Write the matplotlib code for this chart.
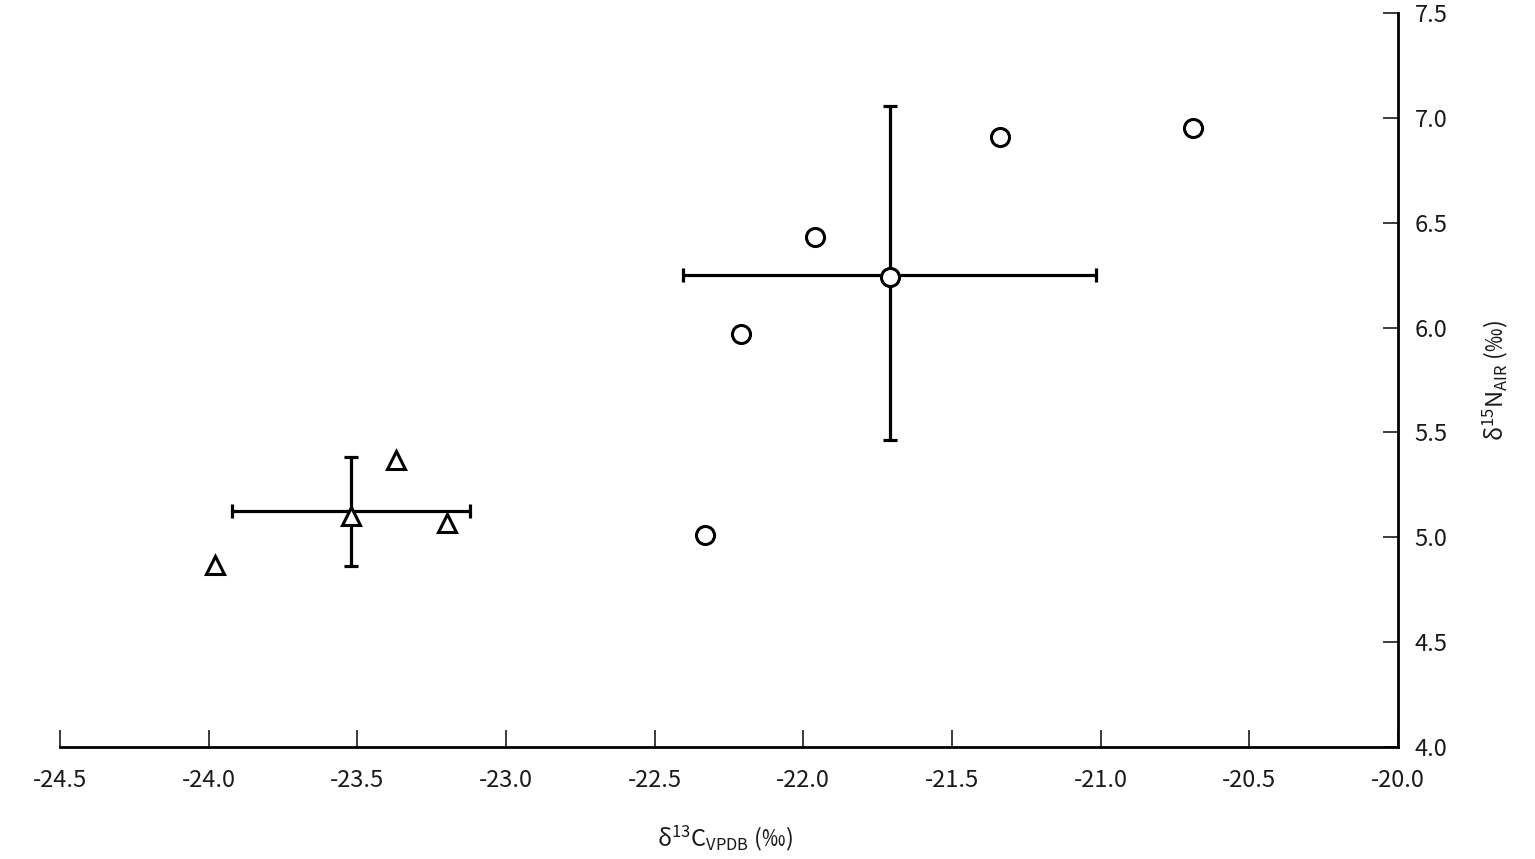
import numpy as np
import matplotlib
matplotlib.use('Agg')
import matplotlib.pyplot as plt

plt.rcParams['font.family'] = ['Noto Sans CJK SC', 'DejaVu Sans']
plt.rcParams['mathtext.fontset'] = 'custom'
plt.rcParams['mathtext.rm'] = 'Noto Sans CJK SC'
plt.rcParams['mathtext.it'] = 'Noto Sans CJK SC'

# group 1 (triangles)
tri_c = [-23.98, -23.37, -23.20]
tri_n = [4.87, 5.37, 5.07]
tri_mean = (-23.52, 5.10)
tri_bar_center = (-23.52, 5.125)
tri_xerr = 0.40
tri_yerr = [[0.26], [0.26]]

# group 2 (circles)
cir_c = [-22.33, -22.21, -21.96, -21.34, -20.69]
cir_n = [5.01, 5.97, 6.43, 6.91, 6.95]
cir_mean = (-21.71, 6.24)
cir_bar_center = (-21.71, 6.25)
cir_xerr = 0.695
cir_yerr = [[0.787], [0.807]]

xticks = np.arange(-24.5, -19.99, 0.5)
yticks = np.arange(4.0, 7.51, 0.5)

fig = plt.figure(figsize=(15.35, 8.59), dpi=100)
ax = fig.add_axes([0.0391, 0.1304, 0.8716, 0.8545])

mk = dict(ms=13, mfc='white', mec='black', mew=2.2, ls='none')
eb = dict(fmt='none', ecolor='black', elinewidth=2.3, capsize=5, capthick=2.3,
          zorder=2)

# mean +/- sd
ax.errorbar(tri_bar_center[0], tri_bar_center[1], xerr=tri_xerr, yerr=tri_yerr, **eb)
ax.plot(tri_mean[0], tri_mean[1], '^', zorder=3, **mk)
ax.errorbar(cir_bar_center[0], cir_bar_center[1], xerr=cir_xerr, yerr=cir_yerr, **eb)
ax.plot(cir_mean[0], cir_mean[1], 'o', zorder=3, **mk)

# samples
ax.plot(tri_c, tri_n, '^', zorder=3, **mk)
ax.plot(cir_c, cir_n, 'o', zorder=3, **mk)

ax.set_xlim(-24.5, -20.0)
ax.set_ylim(4.0, 7.5)
ax.set_xticks(xticks)
ax.set_yticks(yticks)
ax.set_xticklabels(['%.1f' % v for v in xticks])
ax.set_yticklabels(['%.1f' % v for v in yticks])

ax.spines['top'].set_visible(False)
ax.spines['left'].set_visible(False)
ax.spines['bottom'].set_linewidth(2)
ax.spines['right'].set_linewidth(2)
ax.yaxis.tick_right()
ax.yaxis.set_label_position('right')
ax.tick_params(axis='x', direction='in', length=12, width=1.2, pad=16,
               labelsize=17, colors='#1a1a1a')
ax.tick_params(axis='y', direction='in', length=11, width=1.2, pad=12,
               labelsize=17, colors='#1a1a1a')

ax.set_xlabel(r'δ$^{\mathregular{13}}$C$_{\mathregular{VPDB}}$ (‰)',
              fontsize=17, color='#1a1a1a')
ax.xaxis.set_label_coords(0.497, -0.124)
ax.xaxis.label.set_va('center')
ax.set_ylabel(r'δ$^{\mathregular{15}}$N$_{\mathregular{AIR}}$ (‰)',
              fontsize=17, color='#1a1a1a', rotation=90)
ax.yaxis.set_label_coords(1.0725, 0.5)
ax.yaxis.label.set_va('center')

fig.savefig('out.png', dpi=100)
